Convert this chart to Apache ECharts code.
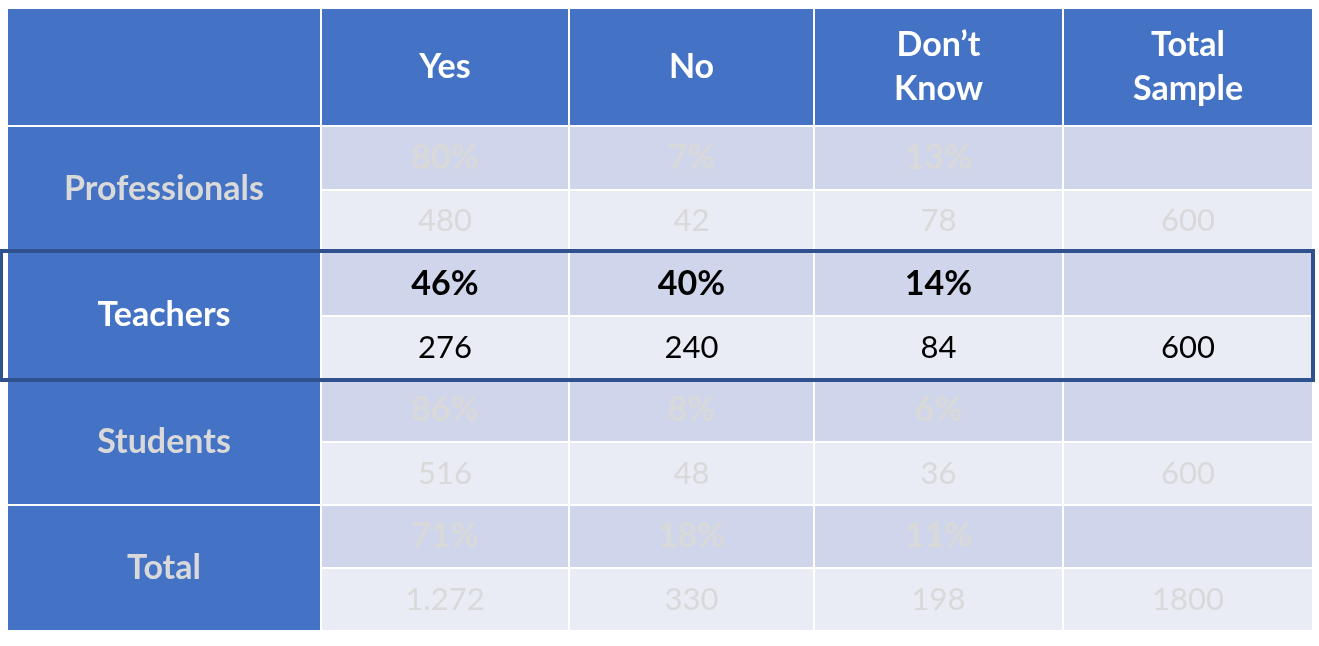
<!DOCTYPE html>
<html>
<head>
<meta charset="utf-8">
<script src="https://cdn.jsdelivr.net/npm/echarts@6/dist/echarts.min.js"></script>
<style>html,body{margin:0;padding:0;background:#fff}#chart{width:1319px;height:646px}</style>
</head>
<body>
<div id="chart"></div>
<script>
// table data
var columns = ['Yes', 'No', 'Don\u2019t\nKnow', 'Total\nSample'];
var groups = ['Professionals', 'Teachers', 'Students', 'Total'];
var percents = [['80%', '7%', '13%', ''], ['46%', '40%', '14%', ''], ['86%', '8%', '6%', ''], ['71%', '18%', '11%', '']];
var counts = [['480', '42', '78', '600'], ['276', '240', '84', '600'], ['516', '48', '36', '600'], ['1.272', '330', '198', '1800']];
var highlighted = 'Teachers';

// layout (axis units = pixels)
var colEdges = [7, 321, 569, 814, 1063, 1313];
var rowEdges = [8, 126, 190, 252, 316, 379, 442, 505, 568, 631];

var FONT = 'Lato, "Open Sans", sans-serif';
var cells = [];
// header row
cells.push([0, 0, 1, '', 'head', true]);
columns.forEach(function (c, i) { cells.push([i + 1, 0, 1, c, 'head', true]); });
groups.forEach(function (g, gi) {
    var on = g === highlighted;
    cells.push([0, 1 + gi * 2, 2, g, 'label', on]);
    for (var j = 0; j < 4; j++) {
        cells.push([j + 1, 1 + gi * 2, 1, percents[gi][j], 'pct', on]);
        cells.push([j + 1, 2 + gi * 2, 1, counts[gi][j], 'cnt', on]);
    }
});

var fills = { head: '#4472C4', label: '#4472C4', pct: '#CFD5EA', cnt: '#E9EBF5' };

function renderCell(params, api) {
    var c = api.value(0), r = api.value(1), span = api.value(2);
    var kind = cells[params.dataIndex][4], on = cells[params.dataIndex][5];
    var p0 = api.coord([colEdges[c], rowEdges[r]]);
    var p1 = api.coord([colEdges[c + 1], rowEdges[r + span]]);
    var x = p0[0] + 1, y = p0[1] + 1, w = p1[0] - p0[0] - 2, h = p1[1] - p0[1] - 2;
    var white = kind === 'head' || kind === 'label';
    var color = on ? (white ? '#fff' : '#000') : '#D9D9D9';
    return {
        type: 'group',
        children: [
            { type: 'rect', shape: { x: x, y: y, width: w, height: h }, style: { fill: fills[kind] } },
            {
                type: 'text',
                style: {
                    x: x + w / 2, y: y + h / 2, text: cells[params.dataIndex][3],
                    align: 'center', verticalAlign: 'middle', fill: color,
                    font: (kind === 'cnt' ? 'normal ' : 'bold ') + (kind === 'cnt' ? 31 : 34) + 'px ' + FONT,
                    lineHeight: 44
                }
            }
        ]
    };
}

var hi = groups.indexOf(highlighted);
var chart = echarts.init(document.getElementById('chart'));
chart.setOption({
    animation: false,
    grid: { left: 0, right: 0, top: 0, bottom: 0 },
    xAxis: { type: 'value', min: 0, max: 1319, show: false },
    yAxis: { type: 'value', min: 0, max: 646, inverse: true, show: false },
    series: [{
        type: 'custom',
        renderItem: renderCell,
        data: cells.map(function (c) { return [c[0], c[1], c[2]]; }),
        silent: true
    }, {
        type: 'custom',
        silent: true,
        z: 5,
        data: [[hi]],
        renderItem: function (params, api) {
            var g = api.value(0);
            var p0 = api.coord([1, rowEdges[1 + g * 2] - 1]);
            var p1 = api.coord([1313, rowEdges[3 + g * 2] + 1]);
            return { type: 'rect', shape: { x: p0[0], y: p0[1], width: p1[0] - p0[0], height: p1[1] - p0[1] },
                style: { fill: 'none', stroke: '#2F528F', lineWidth: 4 } };
        }
    }]
});
</script>
</body>
</html>
